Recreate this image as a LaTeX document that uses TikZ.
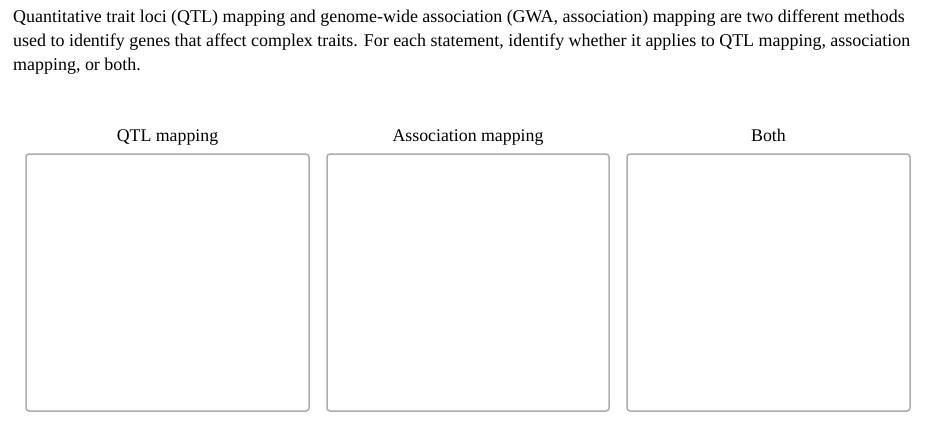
\documentclass[tikz,border=0pt]{standalone}
\usepackage{fontspec}
\setmainfont{Liberation Serif}
\begin{document}
\begin{tikzpicture}[x=1pt,y=-1pt,
  txt/.style={anchor=base west,inner sep=0pt,font=\fontsize{17.95}{21}\selectfont},
  lab/.style={anchor=base,inner sep=0pt,font=\fontsize{17.8}{21}\selectfont},
  bin/.style={draw=black!32,line width=1.5pt,rounded corners=3pt}]
\useasboundingbox (0,0) rectangle (929,426);
\node[txt] (l1) at (13,22) {Quantitative trait loci (QTL) mapping and genome-wide association (GWA, association) mapping are two different methods};
\node[txt] (l2) at (13,46) {used to identify genes that affect complex traits. For each statement, identify whether it applies to QTL mapping, association};
\node[txt] (l3) at (13,70) {mapping, or both.};
\node[lab] (h1) at (167.5,141) {QTL mapping};
\node[lab] (h2) at (468,141) {Association mapping};
\node[lab] (h3) at (768.5,141) {Both};
\draw[bin] (26,154) rectangle (309,411);
\draw[bin] (327,154) rectangle (609,411);
\draw[bin] (627,154) rectangle (910,411);
\end{tikzpicture}
\end{document}
